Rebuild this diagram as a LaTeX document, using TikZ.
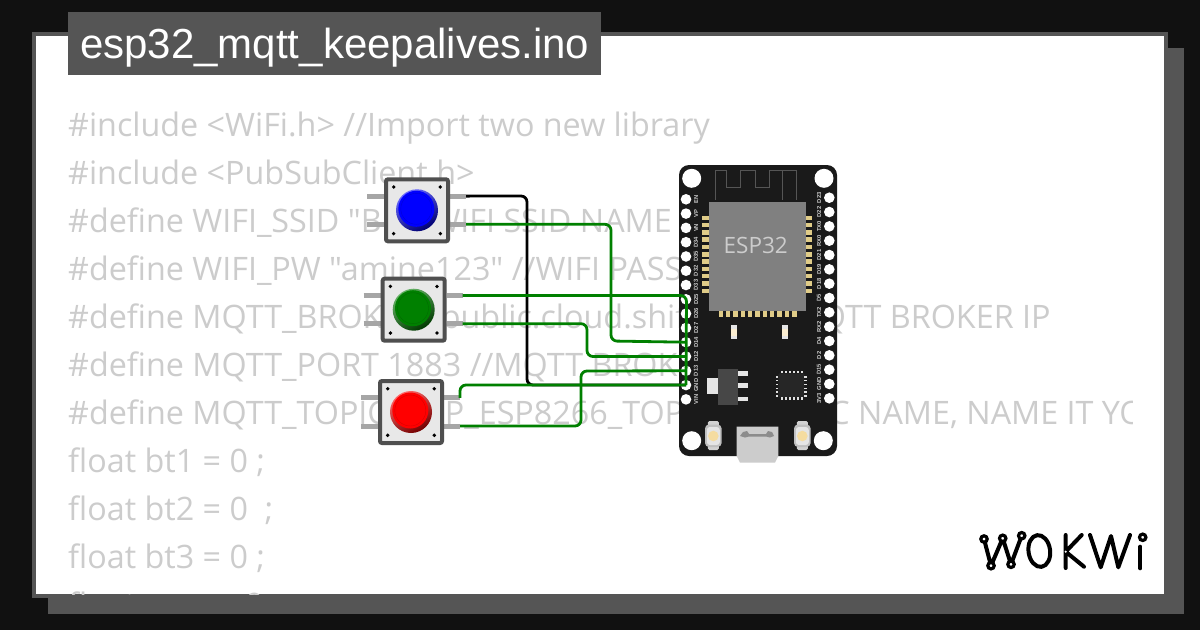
\documentclass[tikz,border=0pt]{standalone}
\usepackage{fontspec}
\setmainfont{Open Sans}
\newfontfamily\codefont{Open Sans}
\newfontfamily\titlefont{Liberation Sans}
\newfontfamily\pinfont{Liberation Sans}
\definecolor{bgdark}{HTML}{111111}
\definecolor{greyband}{HTML}{555555}
\definecolor{codegrey}{HTML}{CCCCCC}
\definecolor{boardblack}{HTML}{1A1A1A}
\definecolor{modgrey}{HTML}{808080}
\definecolor{padgold}{HTML}{E0CC88}
\definecolor{pingrey}{HTML}{A6A6A6}
\definecolor{casegrey}{HTML}{4F4F4F}
\definecolor{wiregreen}{HTML}{008000}
\definecolor{cream}{HTML}{F5DCA0}
\usetikzlibrary{calc}
\tikzset{
  codeline/.style={anchor=base west,inner sep=0pt,text=codegrey,font=\codefont\fontsize{32.3}{32.3}\selectfont},
  hole/.style={circle,fill=white,inner sep=0pt,minimum size=19pt},
  pinhole/.style={circle,fill=white,inner sep=0pt,minimum size=10.6pt},
  pinlabel/.style={rotate=90,inner sep=0pt,text=codegrey,font=\pinfont\bfseries\fontsize{5.8}{5.8}\selectfont},
  btncase/.style={rectangle,draw=casegrey,fill=black!9,line width=4pt,rounded corners=2pt,minimum size=62pt,inner sep=0pt},
  btnpin/.style={draw=pingrey,line width=5pt},
  wire/.style={draw=wiregreen,line width=2.8pt,rounded corners=6pt},
  blackwire/.style={draw=black,line width=2.8pt,rounded corners=6pt},
  logo/.style={draw=black,line width=4pt,line cap=round,line join=round},
  logodot/.style={draw=black,fill=white,line width=3.2pt},
}
\newcommand{\pushbtn}[4]{%
  \draw[btnpin] (#2-50,#3-14.2) -- (#2-33,#3-14.2);
  \draw[btnpin] (#2-50,#3+14) -- (#2-33,#3+14);
  \draw[btnpin] (#2+33,#3-14.2) -- coordinate[pos=1] (#1-a) (#2+49,#3-14.2);
  \draw[btnpin] (#2+33,#3+14) -- coordinate[pos=1] (#1-b) (#2+49,#3+14);
  \node[btncase] (#1) at (#2,#3) {};
  \foreach \dx/\dy in {-23.3/-23.3,23.3/-23.3,-23.3/23.3,23.3/23.3}
    \fill[black] (#2+\dx,#3+\dy) circle[radius=1.9pt];
  \shade[top color=#4!60!white,bottom color=#4!45!black,shading angle=30] (#2,#3) circle[radius=21pt];
  \fill[#4] (#2-0.7,#3-1.5) circle[radius=18pt];
  \draw[#4!85!black,line width=0.4pt] (#2-0.7,#3-1.5) circle[radius=15.5pt];
}
\begin{document}
\begin{tikzpicture}[x=1pt,y=-1pt]
\useasboundingbox (0,0) rectangle (1200,630);
\fill[bgdark] (0,0) rectangle (1200,630);
\fill[greyband] (48,48) rectangle (1184,614);
\fill[greyband] (32,32) rectangle (1168,598);
\fill[white] (36,36) rectangle (1164,594);
\begin{scope}
\clip (36,36) rectangle (1132,594);
\node[codeline] (c1) at (68,136) {\#include <WiFi.h> //Import two new library};
\node[codeline] (c2) at (68,184) {\#include <PubSubClient.h>};
\node[codeline] (c3) at (68,232) {\#define WIFI\_SSID "B\hspace{25pt}//WIFI SSID NAME};
\node[codeline] (c4) at (68,280) {\#define WIFI\_PW "amine123" //WIFI PASSWORD};
\node[codeline] (c5) at (68,328) {\#define MQTT\_BROKER "public.cloud.shiftr.io" //MQTT BROKER IP};
\node[codeline] (c6) at (68,376) {\#define MQTT\_PORT 1883 //MQTT BROKER PORT};
\node[codeline] (c7) at (68,424) {\#define MQTT\_TOPIC "ESP\_ESP8266\_TOPIC" //TOPIC NAME, NAME IT YOUR OWN};
\node[codeline] (c8) at (68,472) {float bt1 = 0 ;};
\node[codeline] (c9) at (68,520) {float bt2 = 0\ \ ;};
\node[codeline] (c10) at (68,568) {float bt3 = 0 ;};
\node[codeline] (c11) at (68,616) {float sum = 0 ;};
\end{scope}
\fill[greyband] (68,12) rectangle (601,75);
\node[anchor=base west,inner sep=0pt,text=white,font=\titlefont\fontsize{42}{42}\selectfont] (title) at (80,58) {esp32\_mqtt\_keepalives.ino};
% board
\fill[boardblack,rounded corners=10pt] (679,165) rectangle (837,456);
\node[hole] (h1) at (691.7,178.3) {};
\node[hole] (h2) at (824,178.3) {};
\node[hole] (h3) at (691.7,440.7) {};
\node[hole] (h4) at (823.3,440.7) {};
% antenna
\draw[greyband,line width=1pt] (715,200) -- (715,170) -- (726.7,170) -- (726.7,187.3) -- (740.7,187.3) -- (740.7,170) -- (755,170) -- (755,187.3) -- (769,187.3) -- (769,170) -- (796,170) -- (796,200) (782.7,170) -- (782.7,200);
% gold pads
\foreach \i in {0,...,10} {
  \fill[padgold] (702.3,215.5+7.3*\i) rectangle (708.7,220+7.3*\i);
  \fill[padgold] (806,215.5+7.3*\i) rectangle (812.3,220+7.3*\i);
  \fill[padgold] (718.5+7.35*\i,310) rectangle (723+7.35*\i,316.7);
}
\fill[modgrey] (708.7,201.7) rectangle (806,310.7);
\node[inner sep=0pt,text=codegrey,font=\codefont\fontsize{22.5}{22.5}\selectfont] (esp) at (755.7,245) {ESP32};
% pins
\foreach \n [count=\i from 0] in {EN,VP,VN,D34,D35,D32,D33,D25,D26,D27,D14,D12,D13,GND,VIN} {
  \node[pinhole] (L\n) at (686,199.3+14.29*\i) {};
  \node[pinlabel] (LL\n) at (696,199.3+14.29*\i) {\n};
}
\foreach \n [count=\i from 0] in {D23,D22,TX0,RX0,D21,D19,D18,D5,TX2,RX2,D4,D2,D15,GND,3V3} {
  \node[pinhole] (R\n) at (829.3,197.7+14.33*\i) {};
  \node[pinlabel] (RL\n) at (819,197.7+14.33*\i) {\n};
}
% small leds
\foreach \x in {730.7,782.3} {
  \fill[black!10] (\x,325) rectangle (\x+5.8,339.3);
  \fill[cream!50!white] (\x,329) rectangle (\x+5.8,336);
}
% regulator
\fill[black!10] (707.3,377.7) rectangle (718,394.3);
\fill[black!10] (738,371) rectangle (748,375.7);
\fill[black!10] (738,383.3) rectangle (748,388);
\fill[black!10] (738,396.7) rectangle (748,401.3);
\fill[black!72] (717.7,369) rectangle (738.3,405);
% chip
\fill[black!85,rounded corners=1pt] (778.3,373.3) rectangle (804.3,397.3);
\foreach \i in {0,...,5} {
  \fill[black!12] (781.3+3.9*\i,370.8) rectangle (783+3.9*\i,373.3);
  \fill[black!12] (781.3+3.9*\i,397.3) rectangle (783+3.9*\i,399.8);
  \fill[black!12] (775.8,375.8+3.9*\i) rectangle (778.3,377.5+3.9*\i);
  \fill[black!12] (804.3,375.8+3.9*\i) rectangle (806.8,377.5+3.9*\i);
}
% tactile switches
\foreach \x in {713.3,802.3} {
  \fill[black!18,rounded corners=1.5pt] (\x-5.5,421) rectangle (\x+5.5,450);
  \fill[black!25,rounded corners=4pt] (\x-8.3,424.5) rectangle (\x+8.3,447);
  \fill[black!10,rounded corners=3pt] (\x-6.5,427) rectangle (\x+6.5,445);
  \fill[cream] (\x,436) circle[radius=5.3pt];
}
% usb
\fill[black!20] (736.7,426.7) -- (778.3,426.7) -- (778.3,456) -- (775,462.7) -- (740,462.7) -- (736.7,456) -- cycle;
\fill[black!45] (740,436) -- (743,432) -- (747,431) -- (749,434) -- (766,434) -- (768,431) -- (772,432) -- (774,436) -- (770,437.5) -- (766,436.5) -- (749,436.5) -- (745,437.5) -- cycle;
% buttons
\pushbtn{bblue}{417}{210.3}{blue}
\pushbtn{bgreen}{413.7}{309.7}{wiregreen}
\pushbtn{bred}{411}{412}{red}
% wire corners
\coordinate (k1) at (527,196);
\coordinate (k2) at (527,385);
\coordinate (k3) at (611,224.3);
\coordinate (k4) at (611,341);
\coordinate (k5) at (686.5,295.5);
\coordinate (k6) at (587,323.7);
\coordinate (k7) at (587,356.5);
\coordinate (k8) at (460,385);
\coordinate (k9) at (581,426);
\coordinate (k10) at (581,371);
% wires
\draw[blackwire] (bblue-a) -- (k1) -- (k2) -- (LGND.center);
\draw[wire] (bblue-b) -- (k3) -- (k4) -- (LD14.center);
\draw[wire] (bgreen-a) -- (k5) -- (LGND.center);
\draw[wire] (bgreen-b) -- (k6) -- (k7) -- (LD12.center);
\draw[wire] (bred-a) -- (k8) -- (LGND.center);
\draw[wire] (bred-b) -- (k9) -- (k10) -- (LD13.center);
% logo
\draw[logo] (984,539) -- (991,565.7) -- (1002.7,538.3) -- (1011,564.3) -- (1021.7,535.7);
\foreach \x/\y in {984/539,1002.7/538.3,1021.7/535.7,991/565.7,1011/564.3}
  \draw[logodot] (\x,\y) circle[radius=3.2pt];
\draw[logo,rotate around={8:(1039.3,551)}] (1039.3,551) ellipse[x radius=10.8pt,y radius=16pt];
\draw[logo] (1065.7,535) -- (1065.7,568) (1081.7,535) -- (1065.7,551.7) -- (1084,566.7);
\fill[white] (1065.7,551.7) circle[radius=1.2pt];
\draw[logo] (1090,535) -- (1100.7,567.3) -- (1111,536) -- (1118.3,567.3) -- (1130,535);
\draw[logo] (1140.3,546.7) -- (1140.3,568.3);
\draw[logodot] (1142.7,537.3) circle[radius=3.2pt];
\end{tikzpicture}
\end{document}
